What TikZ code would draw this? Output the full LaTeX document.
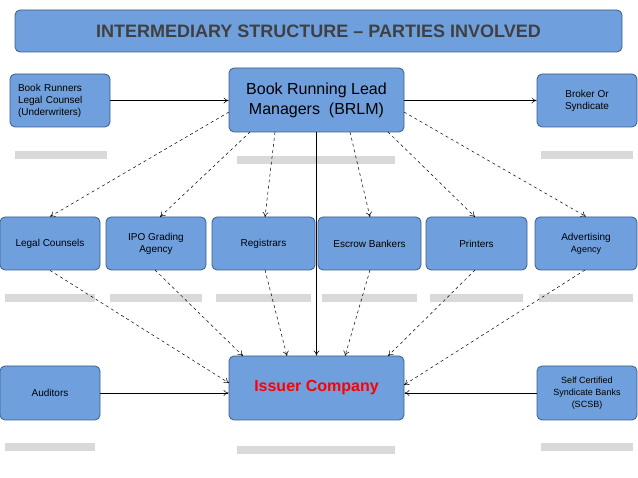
\documentclass[tikz,border=0pt]{standalone}
\usepackage{fontspec}
\setmainfont{Liberation Sans}
\usetikzlibrary{arrows.meta}
\definecolor{bx}{HTML}{6F9FDC}
\definecolor{bd}{HTML}{3A5F8F}
\tikzset{
 box/.style={draw=bd,line width=0.8pt,fill=bx,rounded corners=5pt,align=center,inner sep=0pt},
 sm/.style={font=\fontsize{10}{12}\selectfont},
 ar/.style={-{To[length=5pt,width=6pt]},line width=0.5pt},
 da/.style={ar,dashed}
}
\begin{document}
\begin{tikzpicture}[x=1pt,y=-1pt]
\useasboundingbox[fill=white] (0,0) rectangle (638,478);
\foreach \a/\b/\y in {15/107/155,237/395/160,541/633/155,5/95/298,110/202/298,216/311/298,322/417/298,430/523/298,539/633/298,5/95/447,237/395/450,541/633/447}
  \fill[gray!30] (\a,\y-4) rectangle (\b,\y+4);
\node[box,minimum width=607,minimum height=42,font=\fontsize{18}{20}\selectfont\bfseries,text=black!75] (t) at (318.5,31) {INTERMEDIARY STRUCTURE -- PARTIES INVOLVED};
\node[box,sm,minimum width=100,minimum height=53,text width=84,align=left] (br) at (60,100.5) {Book Runners\\Legal Counsel\\(Underwriters)};
\node[box,minimum width=175,minimum height=64,font=\fontsize{16}{20}\selectfont] (brlm) at (316.5,100) {Book Running Lead\\Managers\ \ (BRLM)};
\node[box,sm,minimum width=100,minimum height=53] (bk) at (587,100.5) {Broker Or\\Syndicate};
\node[box,sm,minimum width=100,minimum height=53] (lc) at (50,243.5) {Legal Counsels};
\node[box,sm,minimum width=100,minimum height=53] (ipo) at (156,243.5) {IPO Grading\\Agency};
\node[box,sm,minimum width=103,minimum height=53] (reg) at (263.5,243.5) {Registrars};
\node[box,sm,minimum width=103,minimum height=53] (esc) at (369.5,243.5) {Escrow Bankers};
\node[box,sm,minimum width=101,minimum height=53] (pr) at (476.5,243.5) {Printers};
\node[box,sm,minimum width=102,minimum height=53] (adv) at (586,243.5) {Advertising\\{\fontsize{9}{11}\selectfont Agency}};
\node[box,sm,minimum width=100,minimum height=54] (aud) at (50,393) {Auditors};
\node[box,minimum width=175,minimum height=64,font=\fontsize{16}{20}\selectfont\bfseries,text=red] (iss) at (316.5,388) {Issuer Company};
\node[box,minimum width=100,minimum height=54,font=\fontsize{9}{12}\selectfont] (sc) at (587,393) {Self Certified\\Syndicate Banks\\(SCSB)};
\draw[ar] (br) -- (brlm.west|-br);
\draw[ar] (brlm.east|-bk) -- (bk);
\draw[ar] (brlm) -- (iss);
\draw[ar] (aud) -- (iss.west|-aud);
\draw[ar] (sc) -- (iss.east|-sc);
\draw[da] (229,112) -- (lc.north);
\draw[da] (250,132) -- (160,217);
\draw[da] (275,132) -- (265,217);
\draw[da] (350,132) -- (370,217);
\draw[da] (388,132) -- (475,217);
\draw[da] (404,112) -- (adv.north);
\draw[da] (lc.south) -- (229,383);
\draw[da] (155,270) -- (243,356);
\draw[da] (265,270) -- (287,356);
\draw[da] (370,270) -- (345,356);
\draw[da] (475,270) -- (388,356);
\draw[da] (585,270) -- (404,385);
\end{tikzpicture}
\end{document}
